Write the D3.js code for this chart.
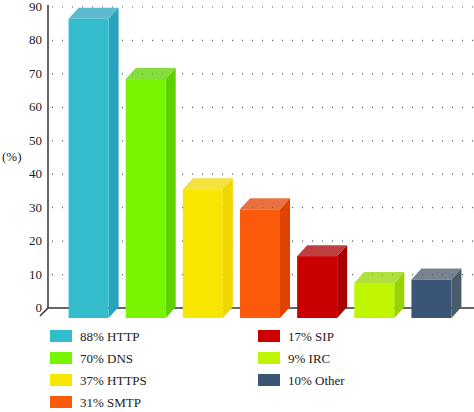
<!DOCTYPE html>
<html><head><meta charset="utf-8">
<script src="https://cdn.jsdelivr.net/npm/d3@7"></script>
<style>body{margin:0;background:#fff}text{font-family:"Liberation Serif",serif;fill:#222}</style>
</head><body><svg id="c" width="474" height="412"></svg>
<script>
var categories = ['HTTP', 'DNS', 'HTTPS', 'SMTP', 'SIP', 'IRC', 'Other'];
var values = [88, 70, 37, 31, 17, 9, 10];
var fronts = ['#33bccb', '#77f500', '#f7e600', '#fa5a0a', '#c80000', '#c0f500', '#3b5576'];
var sides = ['#27a3be', '#5fd000', '#efd800', '#e04200', '#a80000', '#98d400', '#4a5b6b'];
var ticks = [0, 10, 20, 30, 40, 50, 60, 70, 80, 90];

var svg = d3.select('#c');
var y = d3.scaleLinear().domain([0, 90]).range([308, 7]);
var x = d3.scaleBand().domain(categories).range([60, 460]).paddingInner(0.3).paddingOuter(0.15);
var dx = 10, dy = 11, drop = 10;

svg.selectAll('line.grid').data(ticks.slice(1)).enter().append('line')
    .attr('x1', 52).attr('x2', 474)
    .attr('y1', function(d) { return y(d); }).attr('y2', function(d) { return y(d); })
    .attr('stroke', '#555').attr('stroke-dasharray', '1,9').attr('stroke-width', 1.2);

svg.selectAll('text.tick').data(ticks).enter().append('text')
    .attr('x', 42).attr('y', function(d) { return y(d) + 4; })
    .attr('text-anchor', 'end').attr('font-size', 13).text(function(d) { return d; });

svg.append('line').attr('x1', 48).attr('x2', 48).attr('y1', 5).attr('y2', 308).attr('stroke', '#333').attr('stroke-width', 1.5);
svg.append('path').attr('d', 'M40,316L48,308H474').attr('fill', 'none').attr('stroke', '#333').attr('stroke-width', 1.5);
svg.append('text').attr('x', 2).attr('y', 161).attr('font-size', 13).text('(%)');

var g = svg.selectAll('g.bar').data(categories).enter().append('g');
g.append('path').attr('fill', function(d, i) { return sides[i]; })
    .attr('d', function(d, i) {
        var x1 = x(d) + x.bandwidth(), t = y(values[i]) + drop / 2, b = 308 + drop;
        return 'M' + x1 + ',' + t + 'L' + (x1 + dx) + ',' + (t - dy) + 'L' + (x1 + dx) + ',' + (b - dy) + 'L' + x1 + ',' + b + 'Z';
    });
g.append('path').attr('fill', function(d, i) { return sides[i]; }).attr('opacity', 0.75)
    .attr('d', function(d, i) {
        var x0 = x(d), x1 = x0 + x.bandwidth(), t = y(values[i]) + drop / 2;
        return 'M' + x0 + ',' + t + 'L' + (x0 + dx) + ',' + (t - dy) + 'L' + (x1 + dx) + ',' + (t - dy) + 'L' + x1 + ',' + t + 'Z';
    });
g.append('rect').attr('fill', function(d, i) { return fronts[i]; })
    .attr('x', function(d) { return x(d); }).attr('width', x.bandwidth())
    .attr('y', function(d, i) { return y(values[i]) + drop / 2; })
    .attr('height', function(d, i) { return 308 + drop - y(values[i]) - drop / 2; });

var lg = svg.selectAll('g.leg').data(categories).enter().append('g')
    .attr('transform', function(d, i) {
        var col = i < 4 ? 0 : 1, row = i < 4 ? i : i - 4;
        return 'translate(' + (col ? 258 : 50) + ',' + (330 + row * 22) + ')';
    });
lg.append('rect').attr('width', 22).attr('height', 12).attr('fill', function(d, i) { return fronts[i]; });
lg.append('text').attr('x', 30).attr('y', 11).attr('font-size', 13)
    .text(function(d, i) { return values[i] + '% ' + d; });
</script></body></html>
